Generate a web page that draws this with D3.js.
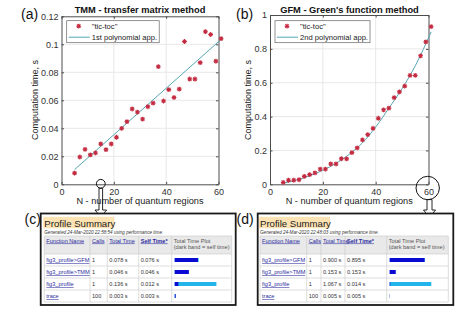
<!DOCTYPE html>
<html><head><meta charset="utf-8">
<script src="https://cdn.jsdelivr.net/npm/d3@7"></script>
<style>body{margin:0;background:#fff} text{font-family:Arial,"Liberation Sans",Helvetica,sans-serif}</style>
</head><body>
<script>
// ---------- data ----------
const nA = [5,7,9,11,13,15,17,19,21,23,25,27,29,31,33,35,37,39,41,43,45,47,49,51,53,55,57,59,61];
const tA = [0.008,0.0195,0.025,0.021,0.0224,0.0288,0.0247,0.0288,0.0336,0.040,0.0447,0.0538,0.0516,0.0466,0.0554,0.058,0.084,0.0595,0.0676,0.062,0.068,0.102,0.0752,0.0752,0.0869,0.109,0.107,0.0879,0.104];
const fitNA = [5, 61];
const fitTA = [0.0105, 0.1035];
const nB = [5,7,9,11,13,15,17,19,21,23,25,27,29,31,33,35,37,39,41,43,45,47,49,51,53,55,57,59,61];
const tB = [0.011,0.024,0.024,0.027,0.047,0.057,0.067,0.09,0.09,0.12,0.12,0.151,0.15,0.187,0.215,0.262,0.294,0.331,0.39,0.44,0.45,0.512,0.546,0.58,0.643,0.643,0.759,0.841,0.931];
const fitNB = [5,10,15,20,25,30,35,40,45,50,55,61];
const fitTB = [0.006,0.025,0.05,0.083,0.124,0.177,0.245,0.338,0.45,0.565,0.70,0.9];
const xTicks = [0,20,40,60];
const yTicksA = [0,0.02,0.04,0.06,0.08,0.1,0.12];
const yTicksB = [0,0.2,0.4,0.6,0.8,1];
const titleA = "TMM - transfer matrix method";
const titleB = "GFM - Green's function method";
const legendA = ['"tic-toc"', "1st polynomial app."];
const legendB = ['"tic-toc"', "2nd polynomial app."];
const xLabel = "N - number of quantum regions";
const yLabel = "Computation time, s";

const profFuncs = ["fig3_profile>GFM","fig3_profile>TMM","fig3_profile","trace"];
const callsC = ["1","1","1","100"];
const totalC = [0.078,0.046,0.136,0.003];
const selfC  = [0.076,0.046,0.012,0.003];
const callsD = ["1","1","1","100"];
const totalD = [0.900,0.153,1.067,0.005];
const selfD  = [0.895,0.153,0.014,0.005];
const genC = "Generated 24-Mar-2020 22:58:54 using performance time.";
const genD = "Generated 24-Mar-2020 22:48:03 using performance time.";

// ---------- drawing ----------
const svg = d3.select("body").append("svg").attr("width",474).attr("height",321);
svg.append("rect").attr("width",474).attr("height",321).attr("fill","#fff");

const red = "#c42a40", teal = "#56a6b4", axc = "#4d4d4d", gridc = "#e2e2e2";

function star(r){
  const k = r*0.72;
  return `M${-r},0H${r}M0,${-r}V${r}M${-k},${-k}L${k},${k}M${-k},${k}L${k},${-k}`;
}

function panel(o){
  const g = svg.append("g");
  const x = d3.scaleLinear().domain([0,60]).range(o.xr);
  const y = d3.scaleLinear().domain(o.yd).range(o.yr);
  // grid
  g.selectAll(".gx").data(xTicks.slice(1,-1)).join("line")
    .attr("x1",d=>x(d)).attr("x2",d=>x(d)).attr("y1",o.yr[0]).attr("y2",o.yr[1])
    .attr("stroke",gridc).attr("stroke-width",0.8);
  g.selectAll(".gy").data(o.yt.slice(1,-1)).join("line")
    .attr("y1",d=>y(d)).attr("y2",d=>y(d)).attr("x1",o.xr[0]).attr("x2",o.xr[1])
    .attr("stroke",gridc).attr("stroke-width",0.8);
  // axes
  const st = sel => { sel.select(".domain").attr("stroke",axc);
    sel.selectAll(".tick line").attr("stroke",axc);
    sel.selectAll("text").attr("fill","#333").attr("font-size",9).attr("font-family","Arial,'Liberation Sans',sans-serif"); };
  g.append("g").attr("transform",`translate(0,${o.yr[0]})`)
    .call(d3.axisBottom(x).tickValues(xTicks).tickSize(-2.5).tickSizeOuter(0).tickPadding(4).tickFormat(d3.format("~g"))).call(st);
  g.append("g").attr("transform",`translate(${o.xr[0]},0)`)
    .call(d3.axisLeft(y).tickValues(o.yt).tickSize(-2.5).tickSizeOuter(0).tickPadding(3).tickFormat(d3.format("~g"))).call(st);
  g.append("g").attr("transform",`translate(0,${o.yr[1]})`)
    .call(d3.axisTop(x).tickValues(xTicks).tickSize(-2.5).tickSizeOuter(0).tickFormat("")).call(st);
  g.append("g").attr("transform",`translate(${o.xr[1]},0)`)
    .call(d3.axisRight(y).tickValues(o.yt).tickSize(-2.5).tickSizeOuter(0).tickFormat("")).call(st);
  // fit line
  const line = d3.line().x(d=>x(d[0])).y(d=>y(d[1])).curve(d3.curveMonotoneX);
  g.append("path").datum(d3.zip(o.fn,o.ft)).attr("d",line).attr("fill","none")
    .attr("stroke",teal).attr("stroke-width",1);
  // points
  g.selectAll(".pt").data(d3.zip(o.n,o.t)).join("path")
    .attr("transform",d=>`translate(${x(d[0])},${y(d[1])})`)
    .attr("d",star(2.4)).attr("stroke",red).attr("stroke-width",1.1).attr("fill","none");
  // title
  g.append("text").attr("x",o.tx).attr("y",13).attr("text-anchor","middle")
    .attr("font-weight","bold").attr("font-size",9.3).attr("fill","#111").text(o.title);
  // panel letter
  g.append("text").attr("x",o.lx).attr("y",18.5).attr("font-size",14).attr("fill","#111").text(o.letter);
  // axis labels
  g.append("text").attr("x",(o.xr[0]+o.xr[1])/2).attr("y",204).attr("text-anchor","middle")
    .attr("font-size",9.2).attr("fill","#222").text(xLabel);
  g.append("text").attr("transform",`translate(${o.ylx},${100}) rotate(-90)`).attr("text-anchor","middle")
    .attr("font-size",9).attr("fill","#222").text(yLabel);
  // legend
  const L = o.leg;
  g.append("rect").attr("x",L.x).attr("y",L.y).attr("width",L.w).attr("height",L.h)
    .attr("fill","#fff").attr("stroke","#666").attr("stroke-width",0.7);
  g.append("path").attr("transform",`translate(${L.x+12},${L.y+5.5})`).attr("d",star(2.4))
    .attr("stroke",red).attr("stroke-width",1.1).attr("fill","none");
  g.append("line").attr("x1",L.x+2).attr("x2",L.x+23).attr("y1",L.y+16.5).attr("y2",L.y+16.5)
    .attr("stroke",teal).attr("stroke-width",1);
  g.append("text").attr("x",L.x+25).attr("y",L.y+8.3).attr("font-size",7.6).attr("fill","#222").text(o.legend[0]);
  g.append("text").attr("x",L.x+25).attr("y",L.y+19.3).attr("font-size",7.6).attr("fill","#222").text(o.legend[1]);
  return {x,y};
}

panel({xr:[61.5,218.5], yr:[184.3,16.3], yd:[0,0.12], yt:yTicksA, n:nA, t:tA, fn:fitNA, ft:fitTA,
  title:titleA, tx:140, letter:"(a)", lx:21, ylx:37.5, legend:legendA,
  leg:{x:66.7,y:20.7,w:92.5,h:22}});
panel({xr:[270,428.5], yr:[184.3,15], yd:[0,1], yt:yTicksB, n:nB, t:tB, fn:fitNB, ft:fitTB,
  title:titleB, tx:349.5, letter:"(b)", lx:236, ylx:250.5, legend:legendB,
  leg:{x:275,y:20.7,w:95,h:22}});

// annotation circles + hollow arrows
function arrow(cx, y0, yb, tip, hw, sw){
  const p = [[cx-hw,y0],[cx+hw,y0],[cx+hw,yb],[cx+sw,yb],[cx,tip],[cx-sw,yb],[cx-hw,yb]];
  svg.append("path").attr("d","M"+p.join("L")+"Z").attr("fill","none").attr("stroke","#111").attr("stroke-width",0.9);
}
svg.append("circle").attr("cx",100.8).attr("cy",183.8).attr("r",4.4).attr("fill","none").attr("stroke","#111").attr("stroke-width",1);
arrow(100.8,188.2,210,216.8,1.8,5.8);
svg.append("circle").attr("cx",427.7).attr("cy",188).attr("r",11.7).attr("fill","none").attr("stroke","#111").attr("stroke-width",1);
arrow(429.5,199.6,210,217.5,2.5,6);

// ---------- profile summary tables ----------
function profile(o){
  const g = svg.append("g");
  g.append("rect").attr("x",o.bx0).attr("y",213.5).attr("width",o.bx1-o.bx0).attr("height",91.5)
    .attr("fill","#fff").attr("stroke","#1a1a1a").attr("stroke-width",1.8);
  g.append("text").attr("x",o.lx).attr("y",224).attr("font-size",14).attr("fill","#111").text(o.letter);
  g.append("rect").attr("x",o.c[0]-1).attr("y",216.8).attr("width",o.hw).attr("height",11.5).attr("fill","#fde3b4");
  g.append("text").attr("x",o.c[0]).attr("y",226.5).attr("font-size",9.6).attr("fill","#1a1a1a").text("Profile Summary");
  g.append("text").attr("x",o.c[0]).attr("y",234.4).attr("font-size",4.6).attr("font-style","italic")
    .attr("fill","#333").text(o.gen);
  const rows = [236,254,266,278,290,302];
  const c = o.c;
  // header bg
  g.append("rect").attr("x",c[0]).attr("y",rows[0]).attr("width",c[5]-c[0]).attr("height",rows[1]-rows[0]).attr("fill","#e9e9e9");
  // grid lines
  rows.forEach(r=>g.append("line").attr("x1",c[0]).attr("x2",c[5]).attr("y1",r).attr("y2",r).attr("stroke","#cfcfcf").attr("stroke-width",0.7));
  c.forEach(v=>g.append("line").attr("x1",v).attr("x2",v).attr("y1",rows[0]).attr("y2",rows[5]).attr("stroke","#cfcfcf").attr("stroke-width",0.7));
  const link = "#2b2ba0";
  const hdr = ["Function Name","Calls","Total Time","Self Time*"];
  hdr.forEach((h,i)=>g.append("text").attr("x",c[i]+2).attr("y",242.5).attr("font-size",5.6)
    .attr("fill",link).attr("font-weight",i===3?"bold":"normal").style("text-decoration","underline").text(h));
  g.append("text").attr("x",c[4]+2).attr("y",242.5).attr("font-size",5.6).attr("fill","#555").text("Total Time Plot");
  g.append("text").attr("x",c[4]+2).attr("y",249).attr("font-size",5.6).attr("fill","#555").text("(dark band = self time)");
  const xs = d3.scaleLinear().domain([0,d3.max(o.total)]).range([c[4]+3, c[4]+3+o.barw]);
  const fmt = d3.format(".3f");
  profFuncs.forEach((f,i)=>{
    const yc = (rows[i+1]+rows[i+2])/2;
    g.append("text").attr("x",c[0]+2).attr("y",yc+2).attr("font-size",5.6).attr("fill",link)
      .style("text-decoration","underline").text(f);
    g.append("text").attr("x",c[1]+2).attr("y",yc+2).attr("font-size",5.6).attr("fill","#333").text(o.calls[i]);
    g.append("text").attr("x",c[2]+2).attr("y",yc+2).attr("font-size",5.6).attr("fill","#333").text(fmt(o.total[i])+" s");
    g.append("text").attr("x",c[3]+2).attr("y",yc+2).attr("font-size",5.6).attr("fill","#333").text(fmt(o.self[i])+" s");
    g.append("rect").attr("x",xs(0)).attr("y",yc-2).attr("width",xs(o.total[i])-xs(0)).attr("height",4).attr("fill","#22b4ea");
    g.append("rect").attr("x",xs(0)).attr("y",yc-2).attr("width",xs(o.self[i])-xs(0)).attr("height",4).attr("fill","#0a0ad2");
  });
}
profile({bx0:40.7,bx1:235.7,lx:24.5,letter:"(c)",c:[44.3,90,107.3,138.7,171.7,231.7],hw:71,gen:genC,
  calls:callsC,total:totalC,self:selfC,barw:41.7});
profile({bx0:257.7,bx1:453.3,lx:236.5,letter:"(d)",c:[260,306.7,321,345,386.7,448.3],hw:71,gen:genD,
  calls:callsD,total:totalD,self:selfD,barw:41.6});
</script>
</body></html>
